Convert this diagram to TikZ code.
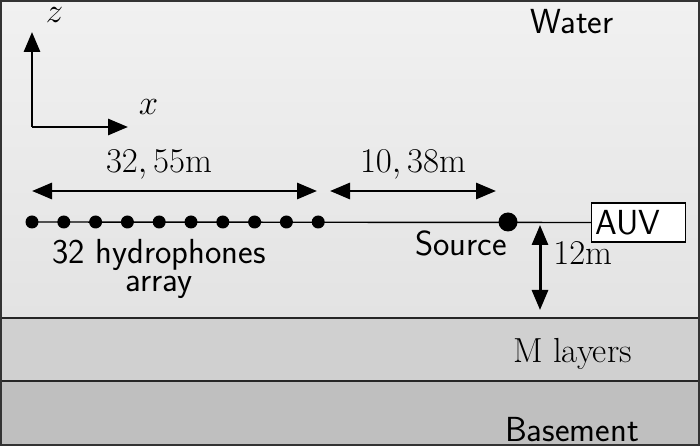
\RequirePackage{fix-cm}
\documentclass[tikz,border=0pt]{standalone}
\usetikzlibrary{arrows.meta}
\newcommand{\bigtext}{\fontsize{19.8}{24}\selectfont}
\begin{document}
\begin{tikzpicture}[font=\bigtext,
  dimarrow/.style={line width=1.7pt, {Triangle[length=0.4cm,width=0.32cm]}-{Triangle[length=0.4cm,width=0.32cm]}},
  axarrow/.style={line width=1.7pt, -{Triangle[length=0.4cm,width=0.32cm]}},
  hydro/.style={circle, fill=black, inner sep=0pt, minimum size=0.26cm},
  lab/.style={anchor=base, inner sep=0pt},
  slab/.style={anchor=base, inner sep=0pt, font=\bigtext\sffamily},
  layerline/.style={line width=1pt, black!85}]
\useasboundingbox (0,0) rectangle (14,8.92);
% water and sea bed
\shade[top color=gray!11, bottom color=gray!22] (0,2.56) rectangle (14,8.92);
\fill[gray!37] (0,1.3) rectangle (14,2.56);
\fill[gray!50] (0,0) rectangle (14,1.3);
\draw[layerline] (0,2.56) -- (14,2.56);
\draw[layerline] (0,1.3) -- (14,1.3);
\node[slab] (water) at (11.44,8.24) {Water};
\node[lab] (mlayers) at (11.45,1.66) {M layers};
\node[slab] (basement) at (11.44,0.08) {Basement};
% axes
\coordinate (o) at (0.64,6.38);
\coordinate (zend) at (0.64,8.28);
\coordinate (xend) at (2.56,6.38);
\draw[axarrow] (o) -- (zend);
\draw[axarrow] (o) -- (xend);
\node[lab] (zlab) at (1.09,8.46) {$z$};
\node[lab] (xlab) at (2.97,6.62) {$x$};
% array, source and AUV
\foreach \i in {1,...,10}
  \node[hydro] (h\i) at ({0.64+(\i-1)*0.636},4.48) {};
\node[circle, fill=black, inner sep=0pt, minimum size=0.38cm] (src) at (10.16,4.48) {};
\node[draw, fill=white, anchor=west, font=\bigtext\sffamily, line width=0.8pt,
  minimum height=0.78cm, text width=1.74cm, inner xsep=2pt, align=left] (auv) at (11.82,4.47) {AUV};
\draw[line width=0.8pt] (h1.center) -- (auv.west);
\node[anchor=north, inner sep=0pt, align=center,
  font=\fontsize{19.8}{16}\selectfont\sffamily] (arr) at (3.18,4.145) {32 hydrophones\\array};
\node[slab] (srclab) at (9.22,3.8) {Source};
% distances
\coordinate (a1) at (0.64,5.1);
\coordinate (a2) at (6.34,5.1);
\coordinate (b1) at (6.6,5.1);
\coordinate (b2) at (9.92,5.1);
\draw[dimarrow] (a1) -- (a2);
\draw[dimarrow] (b1) -- (b2);
\node[lab] (dist1) at (3.18,5.46) {$32,55$m};
\node[lab] (dist2) at (8.26,5.46) {$10,38$m};
\coordinate (c1) at (10.8,4.42);
\coordinate (c2) at (10.8,2.72);
\draw[dimarrow] (c1) -- (c2);
\node[lab, anchor=base west] (depth) at (11.06,3.62) {$12$m};
% frame
\draw[line width=1.2pt, black!80] (0.02,0.02) rectangle (13.98,8.9);
\end{tikzpicture}
\end{document}
